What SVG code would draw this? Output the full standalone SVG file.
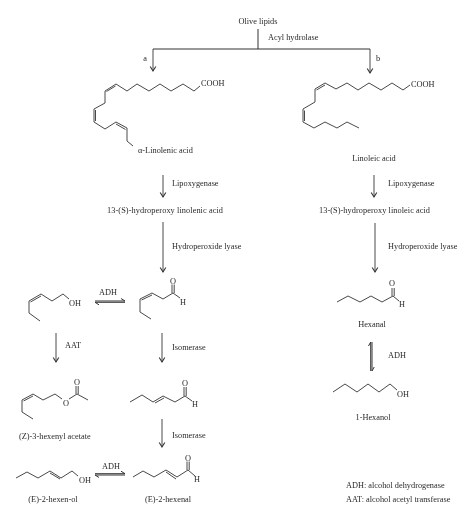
<svg xmlns="http://www.w3.org/2000/svg" width="474" height="520" viewBox="0 0 474 520">
<style>
text{font-family:"Liberation Serif","Times New Roman",serif;font-size:8.300px;fill:#2a2a2a}
.m{text-anchor:middle}
.b{fill:none;stroke:#333;stroke-width:.9;stroke-linejoin:miter}
.d{fill:none;stroke:#333;stroke-width:.9}
.a{fill:none;stroke:#333;stroke-width:.9;marker-end:url(#h)}
.s{fill:none;stroke:#333;stroke-width:1}
</style>
<defs>
<marker id="h" markerWidth="8" markerHeight="8" refX="6" refY="4" orient="auto" markerUnits="userSpaceOnUse"><path d="M1.500 1.200L6 4L1.500 6.800" fill="none" stroke="#333" stroke-width="1.100"/></marker>
<filter id="soft" x="0" y="0" width="100%" height="100%"><feGaussianBlur stdDeviation="0.3"/></filter>
</defs>
<rect width="474" height="520" fill="#fff"/>
<g filter="url(#soft)">
<g id="connectors">
<path class="s" d="M258 29V49M153 49H370"/>
<path class="a" d="M153 49V71"/>
<path class="a" d="M370 49V73"/>
<path class="a" d="M163 175V197"/>
<path class="a" d="M163 222V272"/>
<path class="a" d="M374 175V197"/>
<path class="a" d="M375 223V272"/>
<path class="a" d="M56 333V362"/>
<path class="a" d="M162 333V362"/>
<path class="a" d="M162 419V447"/>
<path class="s" d="M95 301H125L121 298.500M125 302.300H95L99 304.800"/>
<path class="s" d="M95 473.700H125L121 471.200M125 475H95L99 477.500"/>
<path class="s" d="M370.700 371V342L368.500 346M372 342V371L374.200 367"/>
</g>
<g id="olive-lipids"><text class="m" x="258" y="24">Olive lipids</text><text x="268" y="40">Acyl hydrolase</text><text class="m" x="145" y="61">a</text><text class="m" x="378" y="61">b</text></g>
<g id="linolenic-acid">
<path class="b" d="M133 146L127 141V128L116 122L105 129L94 122V109L105 103V91L116 84L127 91L137 84L149 91L160 84L171 91L183 84L194 91L200 86"/>
<path class="d" d="M125.500 129.500L116 124M95.500 110V121M106.500 91.500L115.500 86"/>
<text x="201" y="86">COOH</text><text x="138" y="153">α-Linolenic acid</text></g>
<g id="linoleic-acid">
<path class="b" d="M359 128L347 122L337 128L325 122L314 128L303 122V109L315 102V89L325 83L336 89L347 83L358 90L369 83L381 90L392 83L403 90L410 85"/>
<path class="d" d="M304.500 110.500V121M316.500 90L325 85"/>
<text x="411" y="87">COOH</text><text class="m" x="374" y="161">Linoleic acid</text></g>
<g id="lipoxygenase-left"><text x="172" y="186">Lipoxygenase</text></g>
<g id="hydroperoxy-linolenic"><text x="107" y="213" textLength="116">13-(S)-hydroperoxy linolenic acid</text><text x="172" y="249">Hydroperoxide lyase</text></g>
<g id="lipoxygenase-right"><text x="388" y="186">Lipoxygenase</text></g>
<g id="hydroperoxy-linoleic"><text x="319" y="213" textLength="111">13-(S)-hydroperoxy linoleic acid</text><text x="388" y="249">Hydroperoxide lyase</text></g>
<g id="z-3-hexenol">
<path class="b" d="M40 321L29 313V301L41 294L52 301L63 294L69 299"/>
<path class="d" d="M30.500 302L41 296"/>
<text x="69" y="306">OH</text><text class="m" x="108" y="295">ADH</text></g>
<g id="z-3-hexenal">
<path class="b" d="M151 319L140 312V299L152 293L163 299L173 293L180 298"/>
<path class="d" d="M141.500 300L152 295M172 293V284.500M174.200 293V284.500"/>
<text class="m" x="173" y="284">O</text><text class="m" x="183" y="305">H</text></g>
<g id="z-3-hexenyl-acetate">
<path class="b" d="M33 419L22 412V400L33 394L43 400L55 394L62 399M69 399L77 394L88 400"/>
<path class="d" d="M23.500 401L33 396M76 394V386M78.200 394V386"/>
<text class="m" x="66" y="406">O</text><text class="m" x="77" y="385">O</text><text x="19" y="439">(Z)-3-hexenyl acetate</text><text x="65" y="348">AAT</text></g>
<g id="e-3-hexenal">
<path class="b" d="M130 402L142 395L153 402L163 396L175 402L185 396L192 401"/>
<path class="d" d="M155 403L164 398M184 396V387M186.200 396V387"/>
<text class="m" x="185" y="386">O</text><text class="m" x="195" y="407">H</text><text x="172" y="350">Isomerase</text></g>
<g id="e-2-hexen-ol">
<path class="b" d="M16 478L27 472L38 478L50 471L61 478L72 471L78 476"/>
<path class="d" d="M50 473L60 479"/>
<text x="79" y="483">OH</text><text class="m" x="53" y="502">(E)-2-hexen-ol</text><text class="m" x="111" y="469">ADH</text></g>
<g id="e-2-hexenal">
<path class="b" d="M133 477L143 471L154 477L166 470L177 477L188 470L195 476"/>
<path class="d" d="M166 472L176 479M187 470V461.500M189.200 470V461.500"/>
<text class="m" x="188" y="461">O</text><text class="m" x="197" y="482">H</text><text class="m" x="168" y="502">(E)-2-hexenal</text><text x="172" y="438">Isomerase</text></g>
<g id="hexanal">
<path class="b" d="M337 302L348 296L360 302L371 296L382 302L393 296L399 301"/>
<path class="d" d="M392 296V288M394.200 296V288"/>
<text class="m" x="392" y="286">O</text><text class="m" x="402" y="307">H</text><text class="m" x="372" y="327">Hexanal</text><text x="388" y="358">ADH</text></g>
<g id="hexanol">
<path class="b" d="M333 392L345 384L357 392L368 384L379 392L390 384L397 390"/>
<text x="397" y="397">OH</text><text class="m" x="373" y="420">1-Hexanol</text></g>
<g id="legend"><text x="346" y="488">ADH: alcohol dehydrogenase</text><text x="346" y="502">AAT: alcohol acetyl transferase</text></g>
</g>
</svg>
